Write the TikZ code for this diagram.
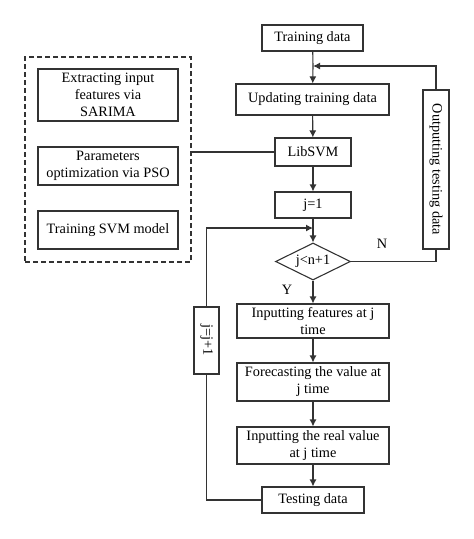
\documentclass[tikz,border=0pt]{standalone}
\usepackage{fontspec}
\setmainfont{Liberation Serif}
\usetikzlibrary{shapes.geometric,arrows.meta}

\tikzset{
  flowbox/.style={draw=black!80, line width=1.1pt, align=center, inner sep=1pt,
    font=\fontsize{14.3}{17}\selectfont},
  flowline/.style={draw=black!80, line width=1.1pt},
  flowarrow/.style={flowline, -{Latex[length=7pt,width=7pt]}},
}

\begin{document}
\begin{tikzpicture}[x=1pt, y=-1pt]
  \useasboundingbox (0,0) rectangle (474,539);

  % left group: what LibSVM does
  \node[flowbox, dash pattern=on 5pt off 3pt, minimum width=166, minimum height=205] (group) at (108,159.5) {};
  \node[flowbox, minimum width=140, minimum height=52] (extract) at (108,95) {Extracting input\\features via\\SARIMA};
  \node[flowbox, minimum width=140, minimum height=38] (pso) at (108,166) {Parameters\\optimization via PSO};
  \node[flowbox, minimum width=140, minimum height=38] (svmtrain) at (108,230) {Training SVM model};

  % main column
  \node[flowbox, minimum width=101, minimum height=26] (train) at (312.5,38) {Training data};
  \node[flowbox, minimum width=153, minimum height=31] (update) at (312.5,99.5) {Updating training data};
  \node[flowbox, minimum width=76, minimum height=28] (libsvm) at (313,152) {LibSVM};
  \node[flowbox, minimum width=76, minimum height=26] (jone) at (313,205) {j=1};
  \node[flowbox, diamond, aspect=2, inner sep=0pt, minimum width=75, minimum height=37] (cond) at (313,261.5) {j<n+1};
  \node[flowbox, minimum width=152, minimum height=34] (feat) at (313,321) {Inputting features at j\\time};
  \node[flowbox, minimum width=152, minimum height=38] (fcast) at (313,382) {Forecasting the value at\\j time};
  \node[flowbox, minimum width=152, minimum height=37] (real) at (313,445.5) {Inputting the real value\\at j time};
  \node[flowbox, minimum width=102, minimum height=26] (test) at (313,500) {Testing data};

  % side boxes
  \node[flowbox, rotate=-90, minimum width=159, minimum height=26] (output) at (436,169.5) {Outputting testing data};
  \node[flowbox, rotate=-90, minimum width=67, minimum height=25] (jinc) at (206.5,340.5) {j=j+1};

  \coordinate (topjoin) at (313,66);
  \coordinate (loopjoin) at (313,228);

  % connectors
  \draw[flowline] (train) -- (topjoin);
  \draw[flowarrow] (topjoin) -- (update);
  \draw[flowarrow] (update) -- (libsvm);
  \draw[flowarrow] (libsvm) -- (jone);
  \draw[flowline] (jone) -- (loopjoin);
  \draw[flowarrow] (loopjoin) -- (cond);
  \draw[flowarrow] (cond) -- (feat);
  \draw[flowarrow] (feat) -- (fcast);
  \draw[flowarrow] (fcast) -- (real);
  \draw[flowarrow] (real) -- (test);
  \draw[flowline] (group.east |- libsvm.west) -- (libsvm.west);
  \draw[flowline] (cond.east) -| (output.east);
  \draw[flowarrow] (output.west) |- (topjoin);
  \draw[flowline] (test.west) -| (jinc.east);
  \draw[flowarrow] (jinc.west) |- (loopjoin);

  \node[font=\fontsize{14.3}{17}\selectfont] (nlabel) at (382,244) {N};
  \node[font=\fontsize{14.3}{17}\selectfont] (ylabel) at (287,290) {Y};
\end{tikzpicture}
\end{document}
